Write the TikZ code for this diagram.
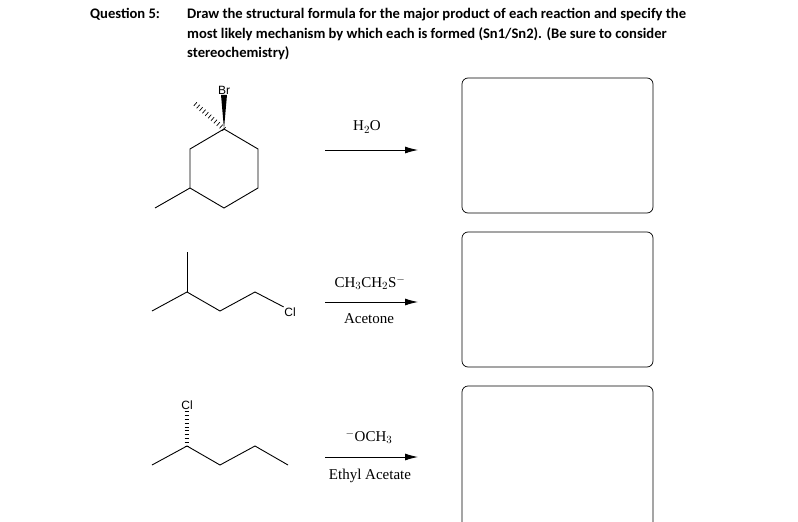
\documentclass[tikz,border=0pt]{standalone}
\usepackage{fontspec}
\setmainfont{Liberation Serif}
\newfontfamily\hdr{Carlito}
\newfontfamily\atm{Liberation Sans}
\usetikzlibrary{arrows.meta,decorations.pathreplacing}
\begin{document}
\begin{tikzpicture}[x=1pt,y=-1pt,
  bond/.style={line width=0.9pt},
  hdrtxt/.style={anchor=base west,inner sep=0pt,font=\hdr\bfseries\fontsize{14.6}{16}\selectfont},
  atomlbl/.style={inner sep=0.5pt,font=\atm\fontsize{12}{13}\selectfont},
  reag/.style={inner sep=0pt,font=\fontsize{15}{17}\selectfont},
  rxn/.style={line width=0.9pt,-{Latex[length=13pt,width=7pt]}},
  ansbox/.style={draw,rounded corners=6pt,line width=0.7pt},
  hash/.style={decorate,decoration={ticks,segment length=3.8pt,amplitude=2.4pt},line width=0.7pt}]
\useasboundingbox (0,0) rectangle (798,522);
% header
\node[hdrtxt] (q) at (90,19) {Question 5:};
\node[hdrtxt] (l1) at (187,19) {Draw the structural formula for the major product of each reaction and specify the};
\node[hdrtxt] (l2) at (187,38) {most likely mechanism by which each is formed (Sn1/Sn2). (Be sure to consider};
\node[hdrtxt] (l3) at (187,57) {stereochemistry)};
% molecule 1
\coordinate (a1) at (224,129); \coordinate (a2) at (258,149); \coordinate (a3) at (258,188);
\coordinate (a4) at (224,208); \coordinate (a5) at (190,188); \coordinate (a6) at (190,149);
\coordinate (am) at (155,208); \coordinate (ah) at (193,102);
\node[atomlbl] (br) at (224,90) {Br};
\draw[bond] (a1)--(a2)--(a3)--(a4)--(a5)--(a6)--cycle;
\draw[bond] (a5)--(am);
\fill (a1) -- ([xshift=-3pt]br.south) -- ([xshift=3pt]br.south) -- cycle;
\draw[hash] (a1)--(ah);
% molecule 2
\coordinate (b1) at (152,311); \coordinate (b2) at (187,292); \coordinate (b3) at (187,252);
\coordinate (b4) at (220,311); \coordinate (b5) at (255,292);
\node[atomlbl] (cl1) at (290,312) {Cl};
\draw[bond] (b1)--(b2)--(b4)--(b5)--(cl1.north west);
\draw[bond] (b2)--(b3);
% molecule 3
\coordinate (c1) at (152,465); \coordinate (c2) at (187,446); \coordinate (c3) at (220,465);
\coordinate (c4) at (255,446); \coordinate (c5) at (288,465);
\node[atomlbl] (cl2) at (187,405) {Cl};
\draw[bond] (c1)--(c2)--(c3)--(c4)--(c5);
\draw[hash] (c2)--(cl2.south);
% arrows
\coordinate (r1s) at (325,150); \coordinate (r1e) at (418,150);
\draw[rxn] (r1s)--(r1e);
\node[reag] (h2o) at (367,127) {H$_2$O};
\coordinate (r2s) at (325,302); \coordinate (r2e) at (418,302);
\draw[rxn] (r2s)--(r2e);
\node[reag] (etS) at (370,283) {CH$_3$CH$_2$S$^{-}$};
\node[reag] (ace) at (369,319) {Acetone};
\coordinate (r3s) at (325,457); \coordinate (r3e) at (418,457);
\draw[rxn] (r3s)--(r3e);
\node[reag] (och) at (369,437) {$^{-}$OCH$_3$};
\node[reag] (eta) at (370,476) {Ethyl Acetate};
% boxes
\node[ansbox,minimum width=191pt,minimum height=135pt] (box1) at (557.5,145.5) {};
\node[ansbox,minimum width=191pt,minimum height=135pt] (box2) at (557.5,299.5) {};
\draw[line width=0.7pt,rounded corners=6pt] (462,523) |- (653,386) -- (653,523);
\end{tikzpicture}
\end{document}
